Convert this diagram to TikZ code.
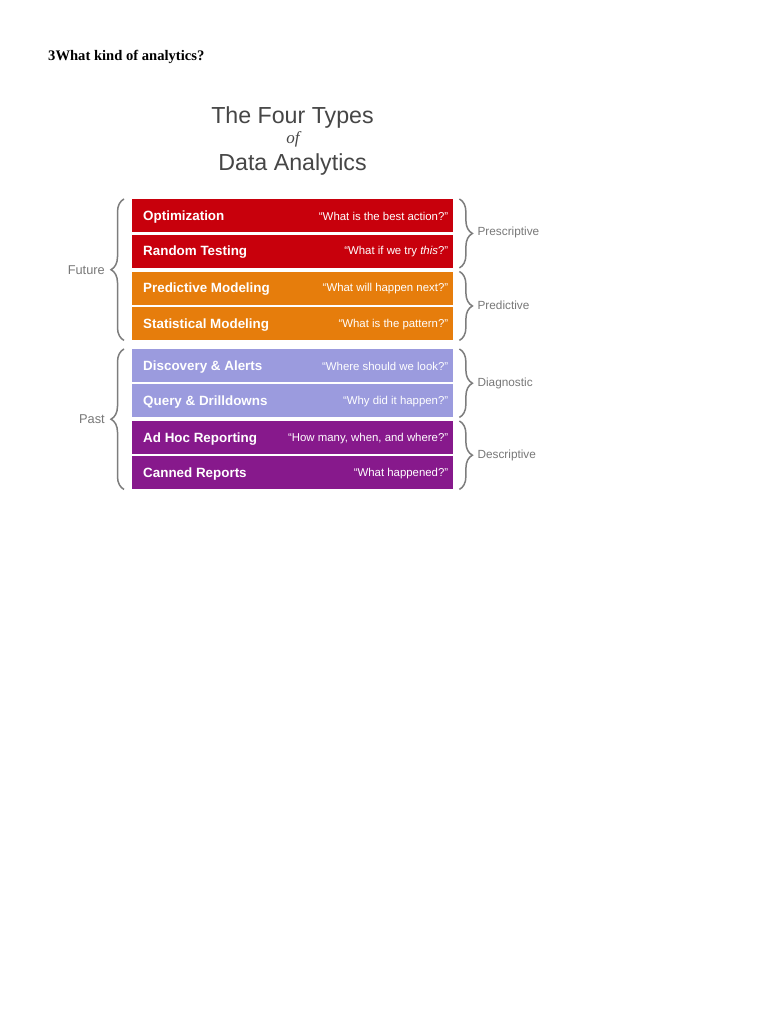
\documentclass[tikz,border=0pt]{standalone}
\usepackage{fontspec}
\setmainfont{Liberation Serif}
\setsansfont{Liberation Sans}
\usetikzlibrary{decorations.pathreplacing,calc}
\definecolor{cred}{RGB}{200,0,12}
\definecolor{corange}{RGB}{230,125,12}
\definecolor{clav}{RGB}{155,155,222}
\definecolor{cpurple}{RGB}{135,25,140}
\definecolor{titlegray}{RGB}{70,70,70}
\definecolor{lblgray}{RGB}{120,120,120}
\definecolor{bracegray}{RGB}{125,125,125}
\tikzset{
  bar/.style={draw=none,rectangle,minimum width=321pt,minimum height=33pt,inner sep=0pt,anchor=north west},
  lefttxt/.style={anchor=west,text=white,font=\sffamily\bfseries\fontsize{13.4}{15}\selectfont,inner sep=0pt},
  quotetxt/.style={anchor=east,text=white,font=\sffamily\fontsize{11.4}{13}\selectfont,inner sep=0pt},
  brc/.style={draw=bracegray,line width=1.5pt,decorate,decoration={brace,amplitude=13pt,aspect=0.5}},
  sidelbl/.style={text=lblgray,font=\sffamily\fontsize{12.8}{14}\selectfont,inner sep=0pt},
  rightlbl/.style={text=lblgray,font=\sffamily\fontsize{11.8}{13}\selectfont,inner sep=0pt,anchor=west},
}
\begin{document}
\begin{tikzpicture}[x=1pt,y=1pt]
\useasboundingbox[fill=white] (0,0) rectangle (768,-1024);
\node[anchor=west,font=\bfseries\fontsize{14.6}{16}\selectfont,inner sep=0pt] (head) at (48,-56.5) {3What kind of analytics?};
\node[text=titlegray,font=\sffamily\fontsize{23.2}{26}\selectfont,inner sep=0pt] (t1) at (292.5,-117.5) {The Four Types};
\node[text=titlegray,font=\itshape\fontsize{17}{19}\selectfont,inner sep=0pt] (t2) at (293,-139.5) {of};
\node[text=titlegray,font=\sffamily\fontsize{23.2}{26}\selectfont,inner sep=0pt] (t3) at (292.5,-164.5) {Data Analytics};
% bars
\node[bar,fill=cred] (b1) at (132,-199) {};
\node[bar,fill=cred] (b2) at (132,-234.5) {};
\node[bar,fill=corange] (b3) at (132,-271.5) {};
\node[bar,fill=corange] (b4) at (132,-307) {};
\node[bar,fill=clav] (b5) at (132,-349) {};
\node[bar,fill=clav] (b6) at (132,-384) {};
\node[bar,fill=cpurple] (b7) at (132,-421) {};
\node[bar,fill=cpurple] (b8) at (132,-456) {};
% left texts
\node[lefttxt] (l1) at ([xshift=11pt,yshift=-1pt]b1.west) {Optimization};
\node[lefttxt] (l2) at ([xshift=11pt,yshift=-1pt]b2.west) {Random Testing};
\node[lefttxt] (l3) at ([xshift=11pt,yshift=-1pt]b3.west) {Predictive Modeling};
\node[lefttxt] (l4) at ([xshift=11pt,yshift=-1pt]b4.west) {Statistical Modeling};
\node[lefttxt] (l5) at ([xshift=11pt,yshift=-1pt]b5.west) {Discovery \& Alerts};
\node[lefttxt] (l6) at ([xshift=11pt,yshift=-1pt]b6.west) {Query \& Drilldowns};
\node[lefttxt] (l7) at ([xshift=11pt,yshift=-1pt]b7.west) {Ad Hoc Reporting};
\node[lefttxt] (l8) at ([xshift=11pt,yshift=-1pt]b8.west) {Canned Reports};
% quotes
\node[quotetxt] (q1) at ([xshift=-5pt,yshift=-0.5pt]b1.east) {“What is the best action?”};
\node[quotetxt] (q2) at ([xshift=-5pt,yshift=-0.5pt]b2.east) {“What if we try \textit{this}?”};
\node[quotetxt] (q3) at ([xshift=-5pt,yshift=-0.5pt]b3.east) {“What will happen next?”};
\node[quotetxt] (q4) at ([xshift=-5pt,yshift=-0.5pt]b4.east) {“What is the pattern?”};
\node[quotetxt] (q5) at ([xshift=-5pt,yshift=-0.5pt]b5.east) {“Where should we look?”};
\node[quotetxt] (q6) at ([xshift=-5pt,yshift=-0.5pt]b6.east) {“Why did it happen?”};
\node[quotetxt] (q7) at ([xshift=-5pt,yshift=-0.5pt]b7.east) {“How many, when, and where?”};
\node[quotetxt] (q8) at ([xshift=-5pt,yshift=-0.5pt]b8.east) {“What happened?”};
% left braces
\coordinate (fTop) at ([xshift=-8pt]b1.north west);
\coordinate (fBot) at ([xshift=-8pt]b4.south west);
\coordinate (pTop) at ([xshift=-8pt]b5.north west);
\coordinate (pBot) at ([xshift=-8pt]b8.south west);
\draw[brc] (fBot) -- (fTop);
\draw[brc] (pBot) -- (pTop);
\node[sidelbl,anchor=east] (future) at ($(fTop)!0.5!(fBot)+(-19,0)$) {Future};
\node[sidelbl,anchor=east] (past) at ($(pTop)!0.5!(pBot)+(-19,0)$) {Past};
% right braces
\coordinate (r1T) at ([xshift=6pt]b1.north east);
\coordinate (r1B) at ([xshift=6pt]b2.south east);
\coordinate (r2T) at ([xshift=6pt]b3.north east);
\coordinate (r2B) at ([xshift=6pt]b4.south east);
\coordinate (r3T) at ([xshift=6pt]b5.north east);
\coordinate (r3B) at ([xshift=6pt]b6.south east);
\coordinate (r4T) at ([xshift=6pt]b7.north east);
\coordinate (r4B) at ([xshift=6pt]b8.south east);
\draw[brc] (r1T) -- (r1B);
\draw[brc] (r2T) -- (r2B);
\draw[brc] (r3T) -- (r3B);
\draw[brc] (r4T) -- (r4B);
\node[rightlbl] (presc) at ($(r1T)!0.5!(r1B)+(18,1)$) {Prescriptive};
\node[rightlbl] (pred) at ($(r2T)!0.5!(r2B)+(18,1)$) {Predictive};
\node[rightlbl] (diag) at ($(r3T)!0.5!(r3B)+(18,0)$) {Diagnostic};
\node[rightlbl] (desc) at ($(r4T)!0.5!(r4B)+(18,0)$) {Descriptive};
\end{tikzpicture}
\end{document}
